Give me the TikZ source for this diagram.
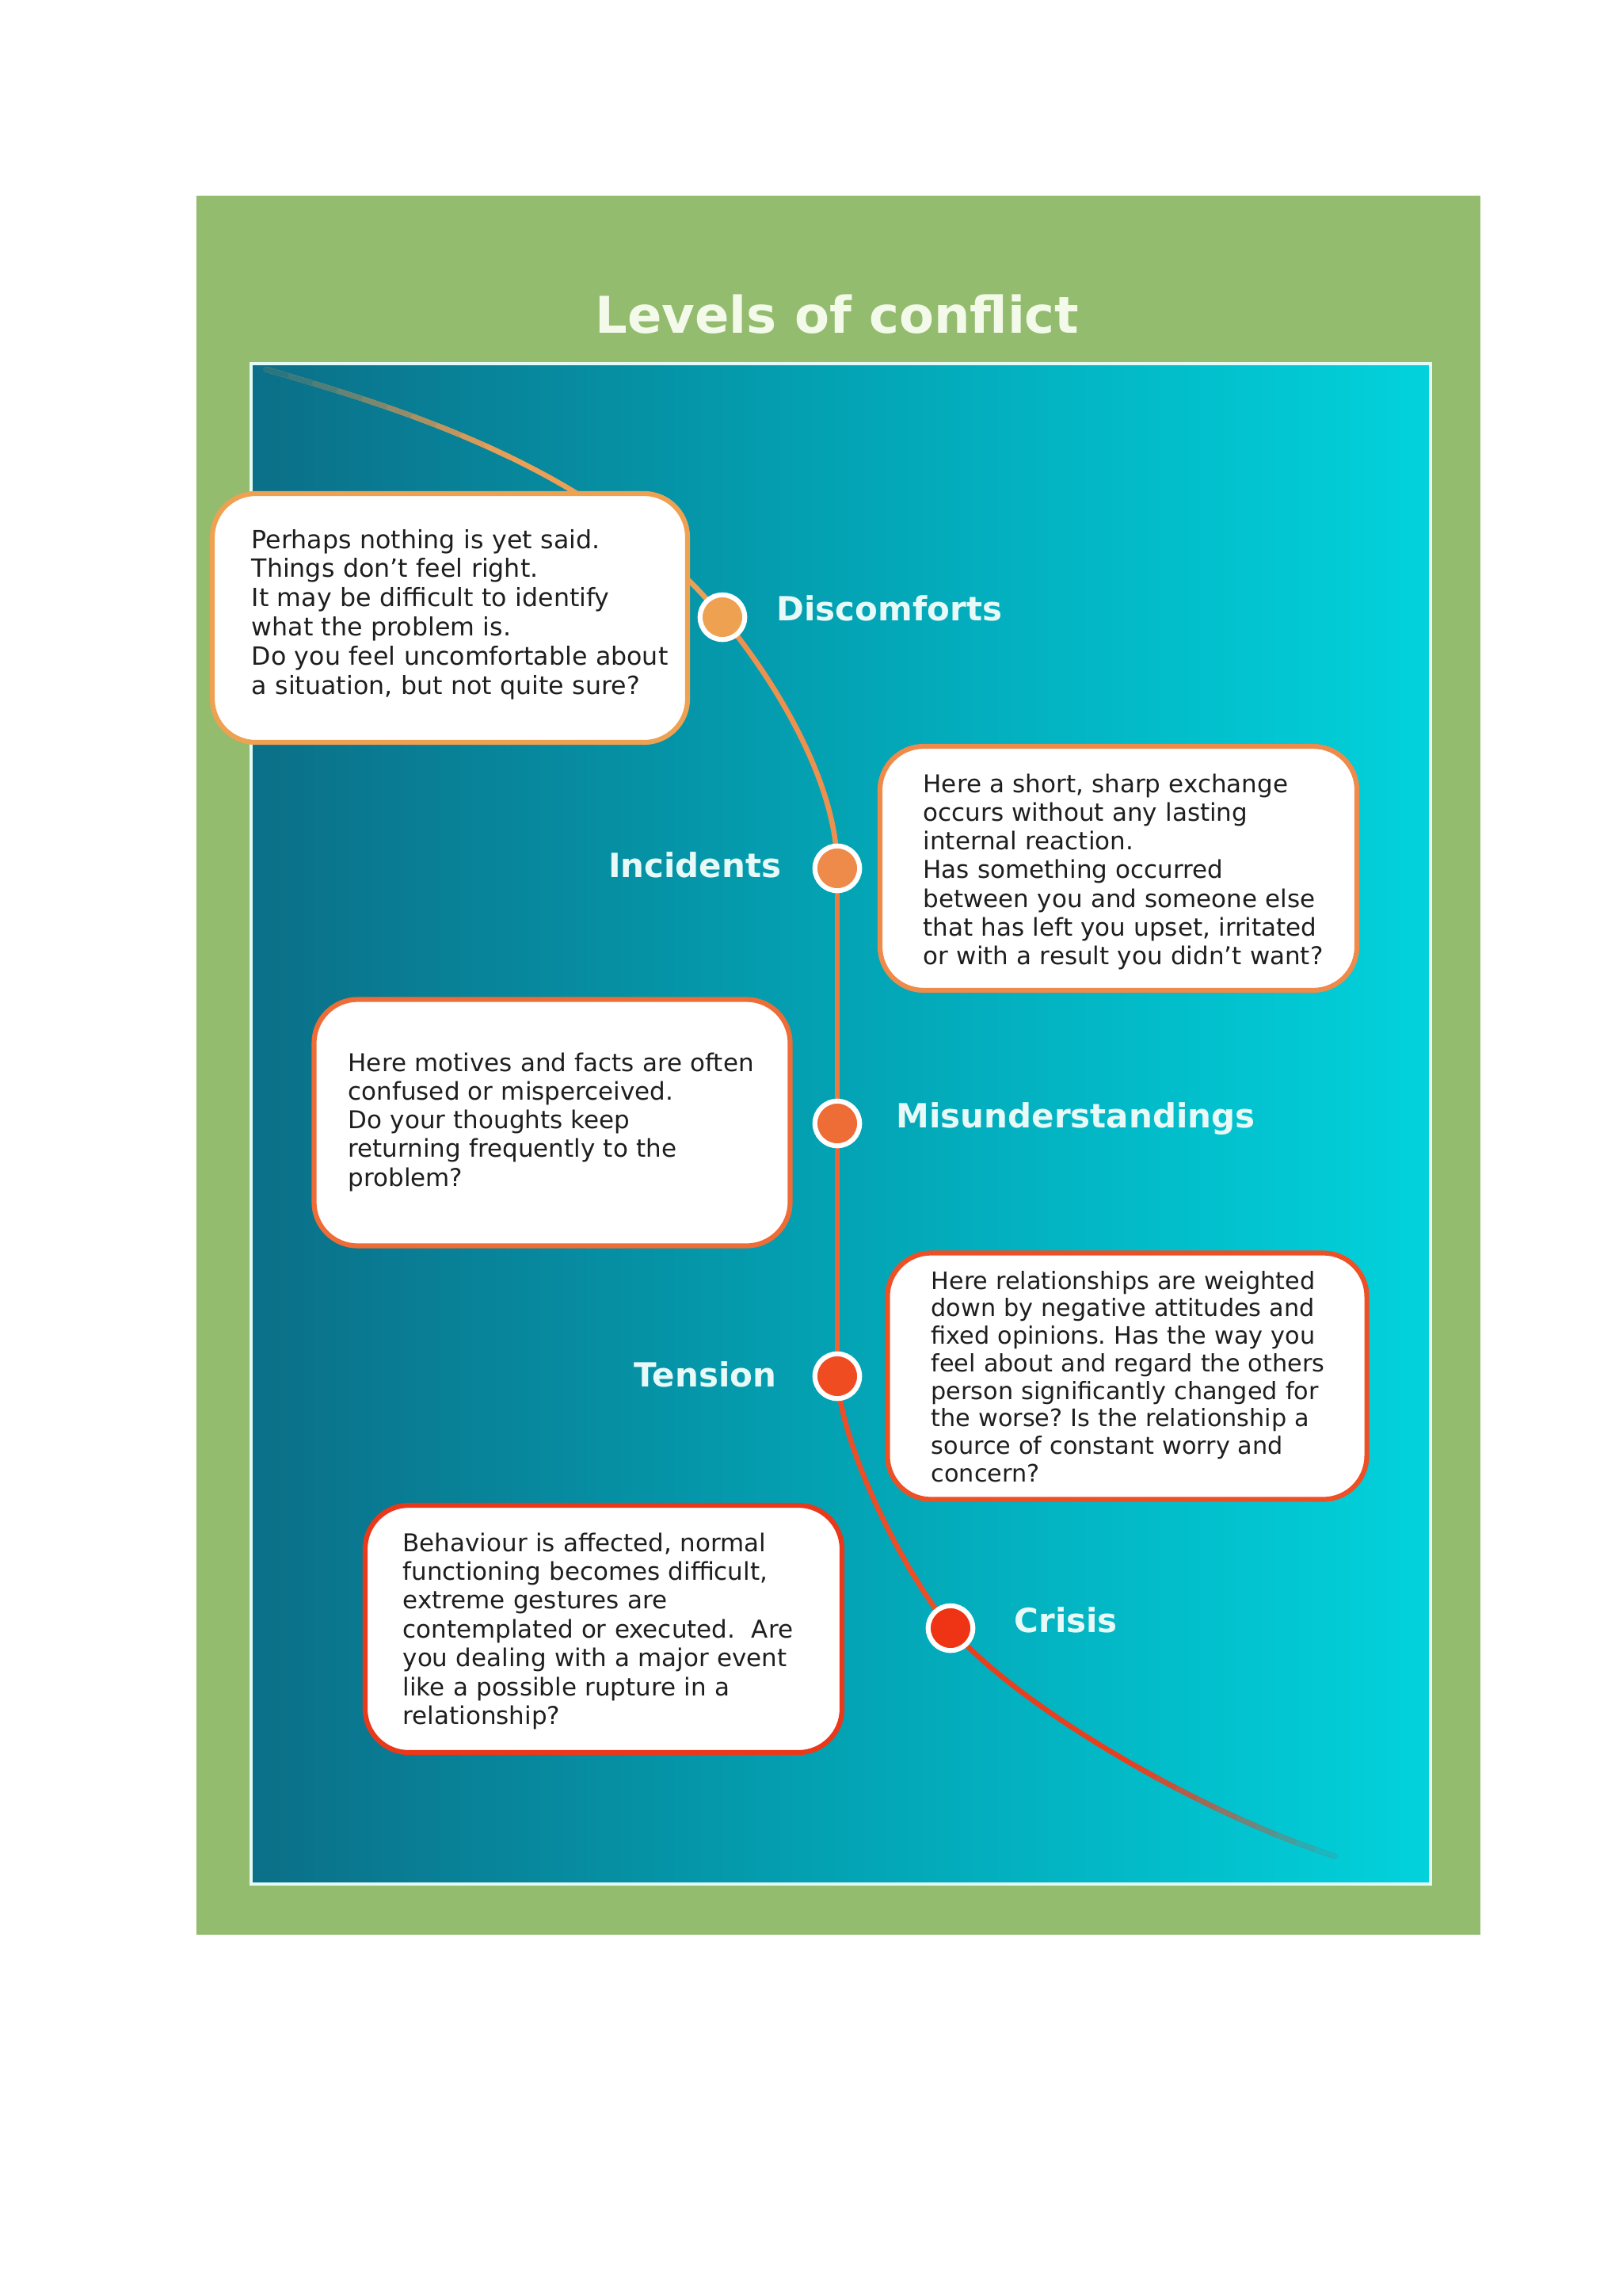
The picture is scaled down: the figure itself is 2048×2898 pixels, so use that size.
\documentclass[tikz,border=0pt]{standalone}
\usepackage{fontspec}
\setmainfont{DejaVu Sans}
\frenchspacing
\definecolor{pageg}{HTML}{94BC6F}
\definecolor{pA}{HTML}{0B6F88}
\definecolor{pB}{HTML}{03A3B4}
\definecolor{pC}{HTML}{02D2DC}
\definecolor{pline}{HTML}{E4FAF6}
\definecolor{titlec}{HTML}{F3FAEA}
\definecolor{labc}{HTML}{E8FAF8}
\definecolor{txtc}{HTML}{1E1E1E}
\definecolor{bgTL}{HTML}{0E6F87}
\definecolor{bgBR}{HTML}{05C2CF}
\definecolor{cA}{HTML}{EBA057}
\definecolor{cB}{HTML}{EE914E}
\definecolor{cC}{HTML}{EE7A42}
\definecolor{cD}{HTML}{EE6234}
\definecolor{cE}{HTML}{EC4E27}
\definecolor{cF}{HTML}{E8401F}
\definecolor{k1}{HTML}{EFA152}
\definecolor{k2}{HTML}{EE8A4A}
\definecolor{k3}{HTML}{EE6C36}
\definecolor{k4}{HTML}{EE5026}
\definecolor{k5}{HTML}{E9381A}
\definecolor{q4}{HTML}{F04C22}
\definecolor{q5}{HTML}{EE3414}
\pgfdeclarehorizontalshading{panelshade}{100bp}{color(0bp)=(pA); color(25bp)=(pA); color(50bp)=(pB); color(75bp)=(pC); color(100bp)=(pC)}
\begin{document}
\begin{tikzpicture}[x=0.29066pt,y=-0.29066pt,
  arcline/.style={line width=1.9pt, line cap=round},
  cbox/.style={draw=#1, line width=1.8pt, fill=white, rounded corners=16pt, inner sep=0pt},
  dot/.style={circle, draw=white, line width=1.8pt, minimum size=16.4pt, inner sep=0pt, fill=#1},
  lab/.style={font=\fontsize{12.2}{14}\selectfont\bfseries, text=labc, inner sep=0pt},
  txt/.style={inner sep=0pt, text width=178pt, align=left, text=txtc, anchor=base west}]
\useasboundingbox (0,0) rectangle (2048,2898);
\fill[white] (0,0) rectangle (2048,2898);
% green page
\fill[pageg] (248,247) rectangle (1869,2442);
% panel
\shade[shading=panelshade] (317,459) rectangle (1806,2378);
\draw[pline, line width=1.3pt] (317,459) rectangle (1806,2378);
% title
\node[font=\fontsize{18.6}{22}\selectfont\bfseries, text=titlec, anchor=base, inner sep=0pt] (title) at (1057,420) {Levels of conflict};
% curve points
\coordinate (S) at (335,466);
\coordinate (d1) at (912,779);
\coordinate (d2) at (1057,1096);
\coordinate (d3) at (1057,1418);
\coordinate (d4) at (1057,1737);
\coordinate (d5) at (1200,2055);
\coordinate (E) at (1686,2343);
% segment A with fade-in
\draw[arcline, cA, line cap=butt] (S) .. controls (540,525) and (764,600) .. (d1);
\path (S) .. controls (540,525) and (764,600) .. (d1)
  coordinate[pos=0.05] (a1) coordinate[pos=0.10] (a2) coordinate[pos=0.15] (a3)
  coordinate[pos=0.20] (a4) coordinate[pos=0.25] (a5) coordinate[pos=0.30] (a6)
  coordinate[pos=0.35] (a7) coordinate[pos=0.40] (a8) coordinate[pos=0.45] (a9)
  coordinate[pos=0.50] (a10);
\foreach \i/\j/\p in {S/a1/12,a1/a2/20,a2/a3/30,a3/a4/40,a4/a5/50,a5/a6/60,a6/a7/70,a7/a8/80,a8/a9/90,a9/a10/97}
  \draw[arcline, draw=cA!\p!bgTL] (\i) -- (\j);
% segment B
\draw[arcline, cB] (d1) .. controls (982,864) and (1057,990) .. (d2);
% vertical segments
\draw[arcline, cC] (d2) -- (d3);
\draw[arcline, cD] (d3) -- (d4);
% segment D
\draw[arcline, cE] (d4) .. controls (1062,1830) and (1145,1991) .. (d5);
% segment E with fade-out
\draw[arcline, cF, line cap=butt] (d5) .. controls (1285,2154) and (1514,2288) .. (E);
\path (d5) .. controls (1285,2154) and (1514,2288) .. (E)
  coordinate[pos=0.55] (e0) coordinate[pos=0.595] (e1) coordinate[pos=0.64] (e2)
  coordinate[pos=0.685] (e3) coordinate[pos=0.73] (e4) coordinate[pos=0.775] (e5)
  coordinate[pos=0.82] (e6) coordinate[pos=0.865] (e7) coordinate[pos=0.91] (e8)
  coordinate[pos=0.955] (e9) coordinate[pos=1.00] (e10);
\foreach \i/\j/\p in {e0/e1/95,e1/e2/86,e2/e3/77,e3/e4/68,e4/e5/58,e5/e6/48,e6/e7/38,e7/e8/28,e8/e9/18,e9/e10/8}
  \draw[arcline, draw=cF!\p!bgBR] (\i) -- (\j);
% boxes
\node[cbox=k1, minimum width=174.4pt, minimum height=91.3pt] (box1) at (568,780) {};
\node[cbox=k2, minimum width=175.0pt, minimum height=89.5pt] (box2) at (1412,1096) {};
\node[cbox=k3, minimum width=174.7pt, minimum height=90.4pt] (box3) at (697,1417) {};
\node[cbox=k4, minimum width=175.9pt, minimum height=90.4pt] (box4) at (1423,1737) {};
\node[cbox=k5, minimum width=175.0pt, minimum height=90.7pt] (box5) at (762,2056) {};
% box texts
\node[txt, font=\fontsize{9.2}{10.75}\selectfont] (t1) at (317,692) {Perhaps nothing is yet said.\\Things don’t feel right.\\It may be difficult to identify\\what the problem is.\\Do you feel uncomfortable about\\a situation, but not quite sure?};
\node[txt, font=\fontsize{9}{10.55}\selectfont] (t2) at (1165,1000) {Here a short, sharp exchange\\occurs without any lasting\\internal reaction.\\Has something occurred\\between you and someone else\\that has left you upset, irritated\\or with a result you didn’t want?};
\node[txt, font=\fontsize{9}{10.55}\selectfont] (t3) at (439,1352) {Here motives and facts are often\\confused or misperceived.\\Do your thoughts keep\\returning frequently to the\\problem?};
\node[txt, font=\fontsize{8.8}{10.1}\selectfont] (t4) at (1175,1627) {Here relationships are weighted\\down by negative attitudes and\\fixed opinions. Has the way you\\feel about and regard the others\\person significantly changed for\\the worse? Is the relationship a\\source of constant worry and\\concern?};
\node[txt, font=\fontsize{9}{10.6}\selectfont] (t5) at (508,1958) {Behaviour is affected, normal\\functioning becomes difficult,\\extreme gestures are\\contemplated or executed.~ Are\\you dealing with a major event\\like a possible rupture in a\\relationship?};
% dots
\node[dot=k1] (dot1) at (d1) {};
\node[dot=k2] (dot2) at (d2) {};
\node[dot=k3] (dot3) at (d3) {};
\node[dot=q4] (dot4) at (d4) {};
\node[dot=q5] (dot5) at (d5) {};
% labels
\node[lab, anchor=base west] (l1) at (980,783) {Discomforts};
\node[lab, anchor=base east] (l2) at (987,1107) {Incidents};
\node[lab, anchor=base west] (l3) at (1131,1423) {Misunderstandings};
\node[lab, anchor=base east] (l4) at (981,1750) {Tension};
\node[lab, anchor=base west] (l5) at (1280,2060) {Crisis};
\end{tikzpicture}
\end{document}
